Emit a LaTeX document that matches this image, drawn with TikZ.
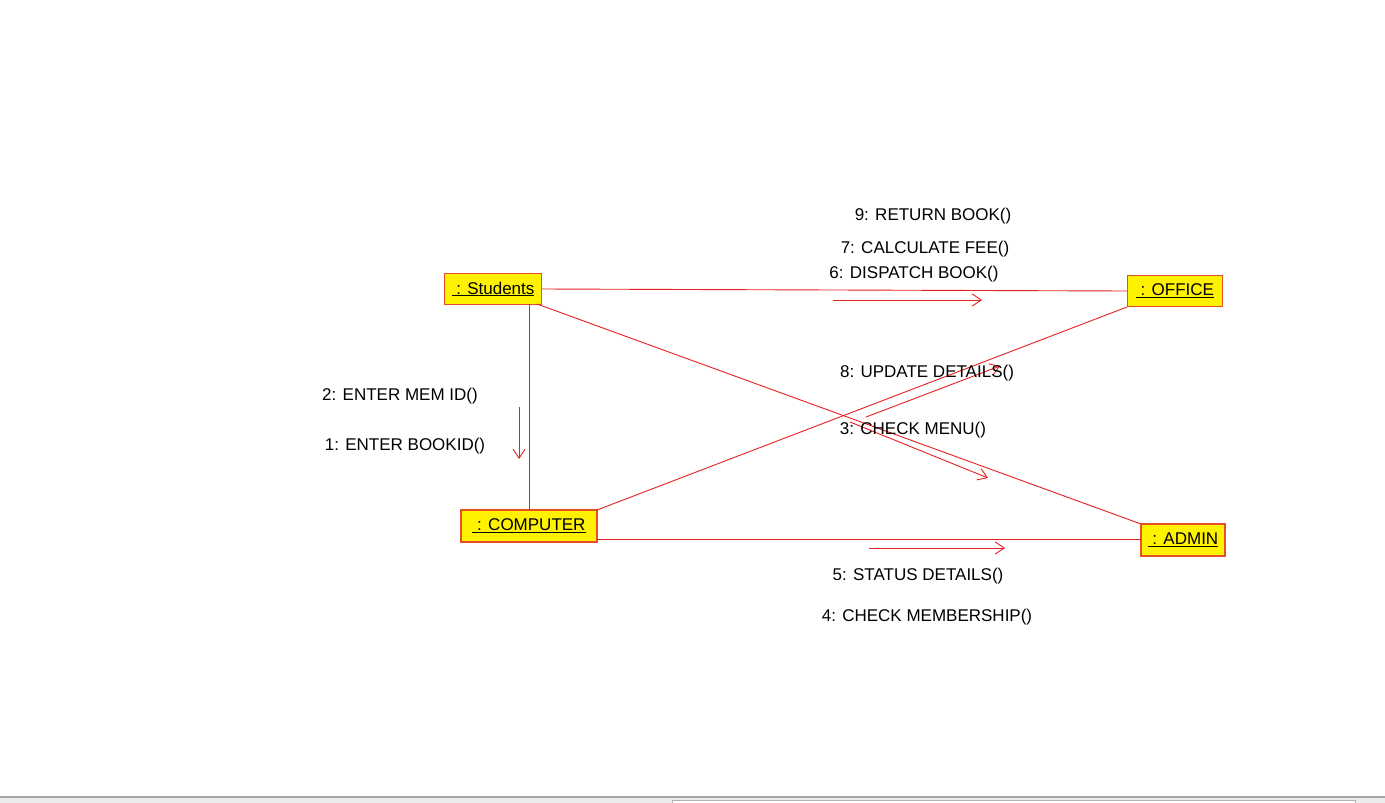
\documentclass[tikz,border=0pt]{standalone}
\usepackage{fontspec}
\setmainfont{Liberation Sans}
\usetikzlibrary{arrows.meta}
\definecolor{lnred}{RGB}{230,30,30}
\definecolor{boxbd}{RGB}{230,80,40}
\begin{document}
\begin{tikzpicture}[x=1pt,y=-1pt,
  obj/.style={draw=boxbd,fill=yellow,line width=1.2pt,inner sep=0pt,font=\fontsize{17}{20}\selectfont},
  lbl/.style={font=\fontsize{17}{20}\selectfont,inner sep=0pt},
  link/.style={draw=lnred,line width=0.9pt},
  msg/.style={draw=lnred,line width=0.9pt,-{Straight Barb[length=9pt,width=12pt]}}]
\useasboundingbox (0,0) rectangle (1385,803);
\fill[gray!15] (0,797) rectangle (1385,803);
\draw[gray!70,line width=1.5pt] (0,797) -- (1385,797);
\draw[gray!60,fill=white] (672,800) rectangle (1355,804);
\node[obj,minimum width=97pt,minimum height=31pt] (s) at (493,289) {\underline{ : Students}};
\node[obj,minimum width=95pt,minimum height=31pt] (o) at (1175,291) {\underline{ : OFFICE}};
\node[obj,minimum width=136pt,minimum height=32pt] (c) at (529,526) {\underline{ : COMPUTER}};
\node[obj,minimum width=84pt,minimum height=32pt] (a) at (1183,540) {\underline{ : ADMIN}};
\draw[link] (s.east) -- (o.west);
\draw[link] (529,304) -- (529,510);
\draw[link] (537,304) -- (1141,524);
\draw[link] (597,510) -- (1127,307);
\draw[link] (597,539) -- (1141,539);
\coordinate (m1a) at (833,300); \coordinate (m1b) at (982,300);
\coordinate (m2a) at (519,407); \coordinate (m2b) at (519,459);
\coordinate (m3a) at (866,417); \coordinate (m3b) at (1000,366);
\coordinate (m4a) at (850,422); \coordinate (m4b) at (988,478);
\coordinate (m5a) at (869,548); \coordinate (m5b) at (1005,548);
\draw[msg] (m1a) -- (m1b);
\draw[msg] (m2a) -- (m2b);
\draw[msg] (m3a) -- (m3b);
\draw[msg] (m4a) -- (m4b);
\draw[msg] (m5a) -- (m5b);
\node[lbl] (l9) at (933,216) {9: RETURN BOOK()};
\node[lbl] (l7) at (925,249) {7: CALCULATE FEE()};
\node[lbl] (l6) at (914,274) {6: DISPATCH BOOK()};
\node[lbl] (l8) at (927,373) {8: UPDATE DETAILS()};
\node[lbl] (l3) at (913,430) {3: CHECK MENU()};
\node[lbl] (l2) at (400,396) {2: ENTER MEM ID()};
\node[lbl] (l1) at (405,446) {1: ENTER BOOKID()};
\node[lbl] (l5) at (918,576) {5: STATUS DETAILS()};
\node[lbl] (l4) at (927,617) {4: CHECK MEMBERSHIP()};
\end{tikzpicture}
\end{document}
